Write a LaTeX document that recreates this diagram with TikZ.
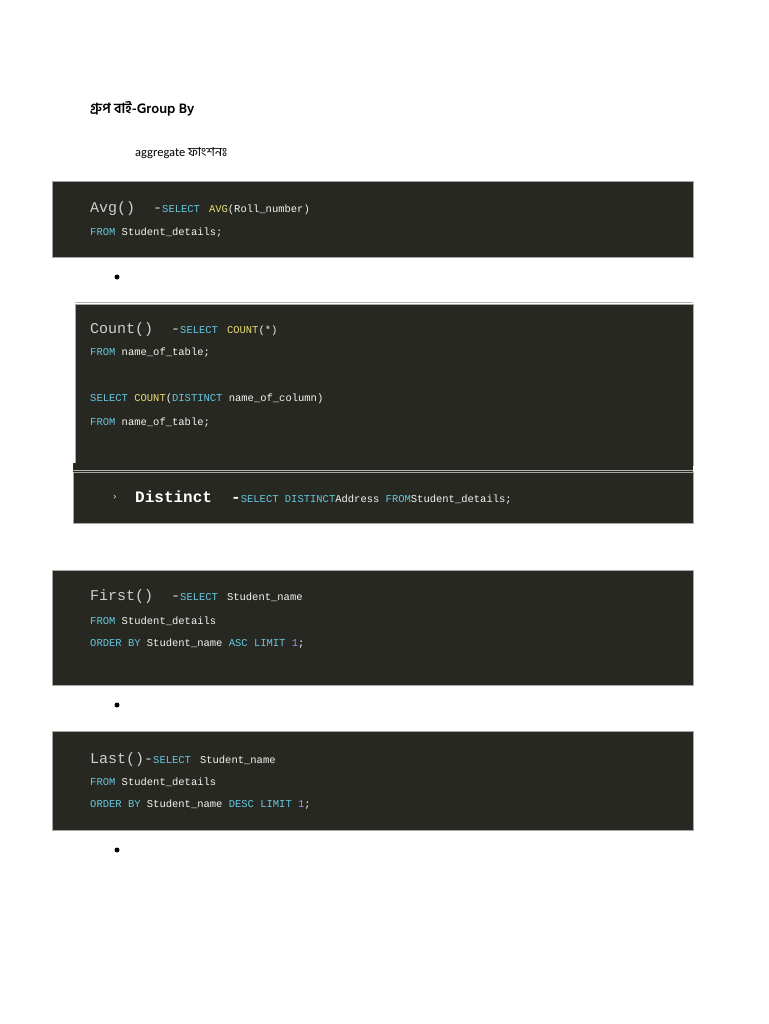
\documentclass[tikz,border=0pt]{standalone}
\usepackage{fontspec}
\setmainfont{Carlito}
\newfontfamily\beng[Script=Bengali]{Hind Siliguri}
\newfontfamily\cm{Liberation Mono}
\definecolor{bg}{HTML}{272822}
\definecolor{kw}{HTML}{66C6DE}
\definecolor{fn}{HTML}{E6DB74}
\definecolor{nm}{HTML}{AE81FF}
\definecolor{tx}{HTML}{F4F4F0}
\definecolor{fg}{HTML}{CFCFCF}
\newcommand{\K}[1]{\textcolor{kw}{#1}}
\newcommand{\F}[1]{\textcolor{fn}{#1}}
\begin{document}
\begin{tikzpicture}[x=1pt,y=-1pt,
 codebox/.style={fill=bg,draw=gray!70,line width=0.6pt},
 code/.style={anchor=west,inner sep=0,text=tx,font=\cm\fontsize{10.5}{12}\selectfont},
 big/.style={anchor=base west,inner sep=0,text=fg,font=\cm\fontsize{15}{16}\selectfont},
 dot/.style={circle,fill=black,inner sep=0,minimum size=5pt}]
\useasboundingbox (0,0) rectangle (768,1024);
\node[anchor=west,inner sep=0,font=\beng\bfseries\fontsize{14}{16}\selectfont] (title) at (90,109) {গ্রুপ বাই-Group By};
\node[anchor=west,inner sep=0,font=\fontsize{12.5}{14}\selectfont] (agg) at (135,153) {aggregate {\beng ফাংশনঃ}};
% Avg
\fill[codebox] (52,181) rectangle (693,257);
\node[big] (avg) at (90,213) {Avg()\ \ -\K{\fontsize{10.5}{12}\selectfont SELECT} {\fontsize{10.5}{12}\selectfont\F{AVG}\textcolor{tx}{(Roll\_number)}}};
\node[code] (avg2) at (90,233) {\K{FROM} Student\_details;};
\node[dot] (b1) at (117,277) {};
% Count
\draw[gray!60,line width=1pt] (75,302) -- (693,302);
\fill[codebox] (75,304) rectangle (693,465);
\node[big] (cnt) at (90,333) {Count()\ \ -\K{\fontsize{10.5}{12}\selectfont SELECT} {\fontsize{10.5}{12}\selectfont\F{COUNT}\textcolor{tx}{(*)}}};
\node[code] (c2) at (90,353) {\K{FROM} name\_of\_table;};
\node[code] (c3) at (90,399) {\K{SELECT} \F{COUNT}(\K{DISTINCT} name\_of\_column)};
\node[code] (c4) at (90,423) {\K{FROM} name\_of\_table;};
% Distinct
\fill[bg] (73,463) rectangle (693,472);
\draw[gray!60] (73,470) -- (693,470);
\fill[codebox] (73,472) rectangle (693,523);
\node[anchor=west,inner sep=0,text=tx,font=\cm\fontsize{9}{10}\selectfont] (arr) at (112,497) {›};
\node[anchor=base west,inner sep=0,text=white,font=\cm\bfseries\fontsize{16}{18}\selectfont] (dis) at (135,502) {Distinct\ \ -{\fontsize{10.5}{12}\selectfont\mdseries\K{SELECT DISTINCT}\textcolor{tx}{ Address }\K{FROM}\textcolor{tx}{ Student\_details;}}};
% First
\fill[codebox] (52,570) rectangle (693,685);
\node[big] (fst) at (90,600) {First()\ \ -\K{\fontsize{10.5}{12}\selectfont SELECT} {\fontsize{10.5}{12}\selectfont\textcolor{tx}{Student\_name}}};
\node[code] (f2) at (90,621) {\K{FROM} Student\_details};
\node[code] (f3) at (90,644) {\K{ORDER BY} Student\_name \K{ASC LIMIT} \textcolor{nm}{1};};
\node[dot] (b2) at (117,705) {};
% Last
\fill[codebox] (52,731) rectangle (693,830);
\node[big] (lst) at (90,763) {Last()-\K{\fontsize{10.5}{12}\selectfont SELECT} {\fontsize{10.5}{12}\selectfont\textcolor{tx}{Student\_name}}};
\node[code] (l2) at (90,782) {\K{FROM} Student\_details};
\node[code] (l3) at (90,805) {\K{ORDER BY} Student\_name \K{DESC LIMIT} \textcolor{nm}{1};};
\node[dot] (b3) at (117,850) {};
\end{tikzpicture}
\end{document}
